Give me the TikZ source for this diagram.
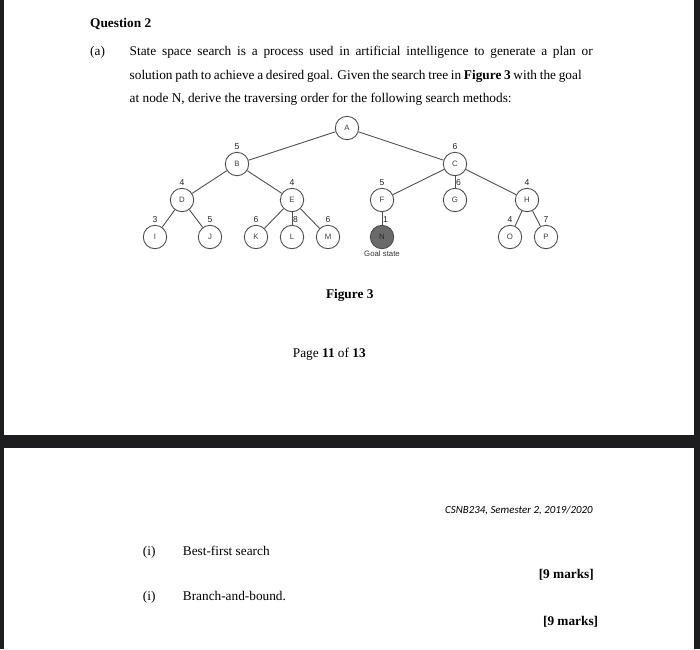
\documentclass[tikz,border=0pt]{standalone}
\usepackage{fontspec}
\setmainfont{Liberation Serif}
\setsansfont{Liberation Sans}
\newfontfamily\calfont{Carlito}
\usetikzlibrary{positioning}
\definecolor{framedark}{HTML}{1D1D1F}
\definecolor{treeline}{HTML}{505050}
\definecolor{goalgray}{HTML}{6A6A6A}

\begin{document}
\begin{tikzpicture}[
  x=1pt,y=-1pt,
  state/.style={circle,draw=treeline,line width=0.9pt,minimum size=23.4pt,inner sep=0pt,font=\sffamily\fontsize{7.8}{9}\selectfont,text=black!75},
  goalstate/.style={state,fill=goalgray,draw=black!70,text=black!85},
  goallbl/.style={font=\sffamily\fontsize{7.8}{9}\selectfont,text=black!80,inner sep=0pt},
  edge/.style={draw=treeline,line width=0.9pt},
  every label/.style={font=\sffamily\fontsize{8.6}{10}\selectfont,text=black!85,inner sep=2pt},
  body/.style={font=\fontsize{13.3}{16}\selectfont,inner sep=0pt,anchor=base west},
  on grid
]
\useasboundingbox (0,0) rectangle (700,649);
\fill[framedark] (0,0) rectangle (700,649);
\fill[white] (4,0) rectangle (694,435);
\fill[white] (4,448) rectangle (694,649);

% question text
\node[body,font=\bfseries\fontsize{13.3}{16}\selectfont] (question) at (90,27.5) {Question 2};
\node[body] (parta) at (90,55.5) {(a)};
\node[body] (line1) at (129.5,55.5) {\makebox[463pt][s]{State space search is a process used in artificial intelligence to generate a plan or}};
\node[body] (line2) at (129.5,79) {\makebox[452pt][s]{solution path to achieve a desired goal.  Given the search tree in \textbf{Figure 3} with the goal}};
\node[body] (line3) at (129.5,102.3) {at node N, derive the traversing order for the following search methods:};

% search tree
\node[state] (A) at (347,128) {A};
\node[state,below left=36pt and 110pt of A,label=above:5] (B) {B};
\node[state,below right=36pt and 108pt of A,label=above:6] (C) {C};
\node[state,below left=36pt and 55pt of B,label=above:4] (D) {D};
\node[state,below right=36pt and 55pt of B,label=above:4] (E) {E};
\node[state,below left=36pt and 73pt of C,label=above:5] (F) {F};
\node[state,below=36pt of C,label={[xshift=3.5pt]above:6}] (G) {G};
\node[state,below right=36pt and 72pt of C,label=above:4] (H) {H};
\node[state,below left=37pt and 27pt of D,label=above:3] (I) {I};
\node[state,below right=37pt and 28pt of D,label=above:5] (J) {J};
\node[state,below left=37pt and 36pt of E,label=above:6] (K) {K};
\node[state,below=37pt of E,label={[xshift=3.5pt]above:8}] (L) {L};
\node[state,below right=37pt and 36pt of E,label=above:6] (M) {M};
\node[goalstate,below=37pt of F,label={[xshift=3.5pt]above:1}] (N) {N};
\node[state,below left=37pt and 17pt of H,label=above:4] (O) {O};
\node[state,below right=37pt and 19pt of H,label=above:7] (P) {P};
\node[goallbl,below=17pt of N] (goal) {Goal state};
\draw[edge] (A) -- (B);
\draw[edge] (A) -- (C);
\draw[edge] (B) -- (D);
\draw[edge] (B) -- (E);
\draw[edge] (C) -- (F);
\draw[edge] (C) -- (G);
\draw[edge] (C) -- (H);
\draw[edge] (D) -- (I);
\draw[edge] (D) -- (J);
\draw[edge] (E) -- (K);
\draw[edge] (E) -- (L);
\draw[edge] (E) -- (M);
\draw[edge] (F) -- (N);
\draw[edge] (H) -- (O);
\draw[edge] (H) -- (P);

\node[body,anchor=base] (figcap) at (349.7,298.5) {\textbf{Figure 3}};
\node[body,anchor=base] (pagenum) at (329.3,357) {Page \textbf{11} of \textbf{13}};

% second page
\node[anchor=base west,font=\calfont\itshape\fontsize{10.9}{13}\selectfont,inner sep=0pt] (course) at (445,513) {CSNB234, Semester 2, 2019/2020};
\node[body] (item1) at (142.7,555) {(i)};
\node[body] (best) at (182.7,555) {Best-first search};
\node[body,anchor=base east] (marks1) at (594,578) {\textbf{[9 marks]}};
\node[body] (item2) at (142.7,600) {(i)};
\node[body] (branch) at (182.7,600) {Branch-and-bound.};
\node[body,anchor=base east] (marks2) at (598.3,625) {\textbf{[9 marks]}};
\end{tikzpicture}
\end{document}
